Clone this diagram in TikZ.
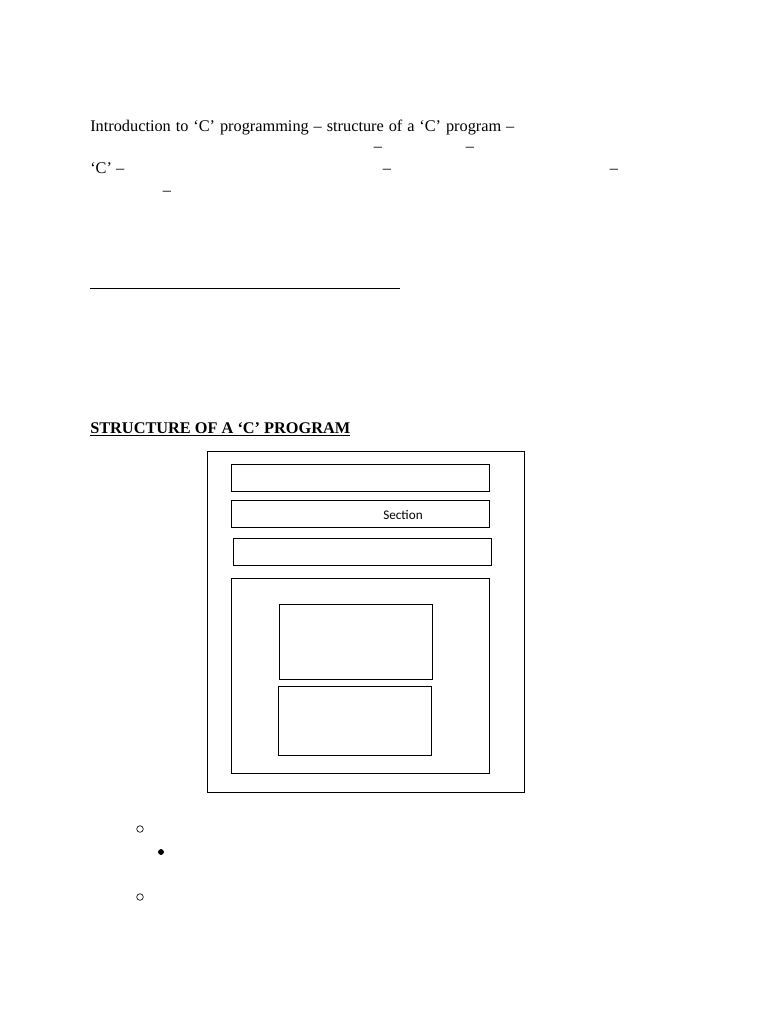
\documentclass[tikz,border=0pt]{standalone}
\usepackage{fontspec}
\setmainfont{Liberation Serif}
\newfontfamily\boxfont{Carlito}
\usetikzlibrary{positioning}

\tikzset{
	txt/.style={anchor=base west, inner sep=0pt, font=\fontsize{13}{15}\selectfont},
	dsh/.style={anchor=base, inner sep=0pt, font=\fontsize{13}{15}\selectfont},
	box/.style={line width=0.6pt, draw=black}
}

\begin{document}
\begin{tikzpicture}[x=0.797pt, y=-0.797pt]
			%%%%% START %%%%%
			
			\useasboundingbox[fill=white] (0, 0) rectangle (768, 1024);
			
			\node[txt] (intro) at (90, 131) {\makebox[338pt][s]{Introduction to ‘C’ programming – structure of a ‘C’ program –}};
			\node[dsh] (d1) at (378, 151) {–};
			\node[dsh] (d2) at (470, 151) {–};
			\node[txt] (cdash) at (90, 173) {‘C’ –};
			\node[dsh] (d3) at (387, 173) {–};
			\node[dsh] (d4) at (614, 173) {–};
			\node[dsh] (d5) at (167, 195) {–};
			
			\draw[line width=0.6pt] (90, 288) -- (400, 288);
			
			\node[txt, font=\fontsize{13}{15}\selectfont\bfseries] (head) at (90, 433) {\underline{STRUCTURE OF A ‘C’ PROGRAM}};
			
			\draw[box] (207, 451) rectangle (524, 792);
			
			\draw[box] (231, 464) rectangle (489, 491);
			\draw[box] (231, 500) rectangle (489, 527);
			\node[inner sep=0pt, font=\boxfont\fontsize{10.5}{12}\selectfont] (sect) at (403, 515) {Section};
			\draw[box] (233, 538) rectangle (491, 565);
			
			\draw[box] (231, 578) rectangle (489, 773);
			\draw[box] (279, 604) rectangle (432, 679);
			\draw[box] (278, 686) rectangle (431, 755);
			
			\draw[line width=0.5pt] (140, 829) circle (3.3);
			\draw[fill=black] (161, 852) circle (2.6);
			\draw[line width=0.5pt] (140, 897) circle (3.3);
			
			%%%%% END %%%%%
\end{tikzpicture}
\end{document}
